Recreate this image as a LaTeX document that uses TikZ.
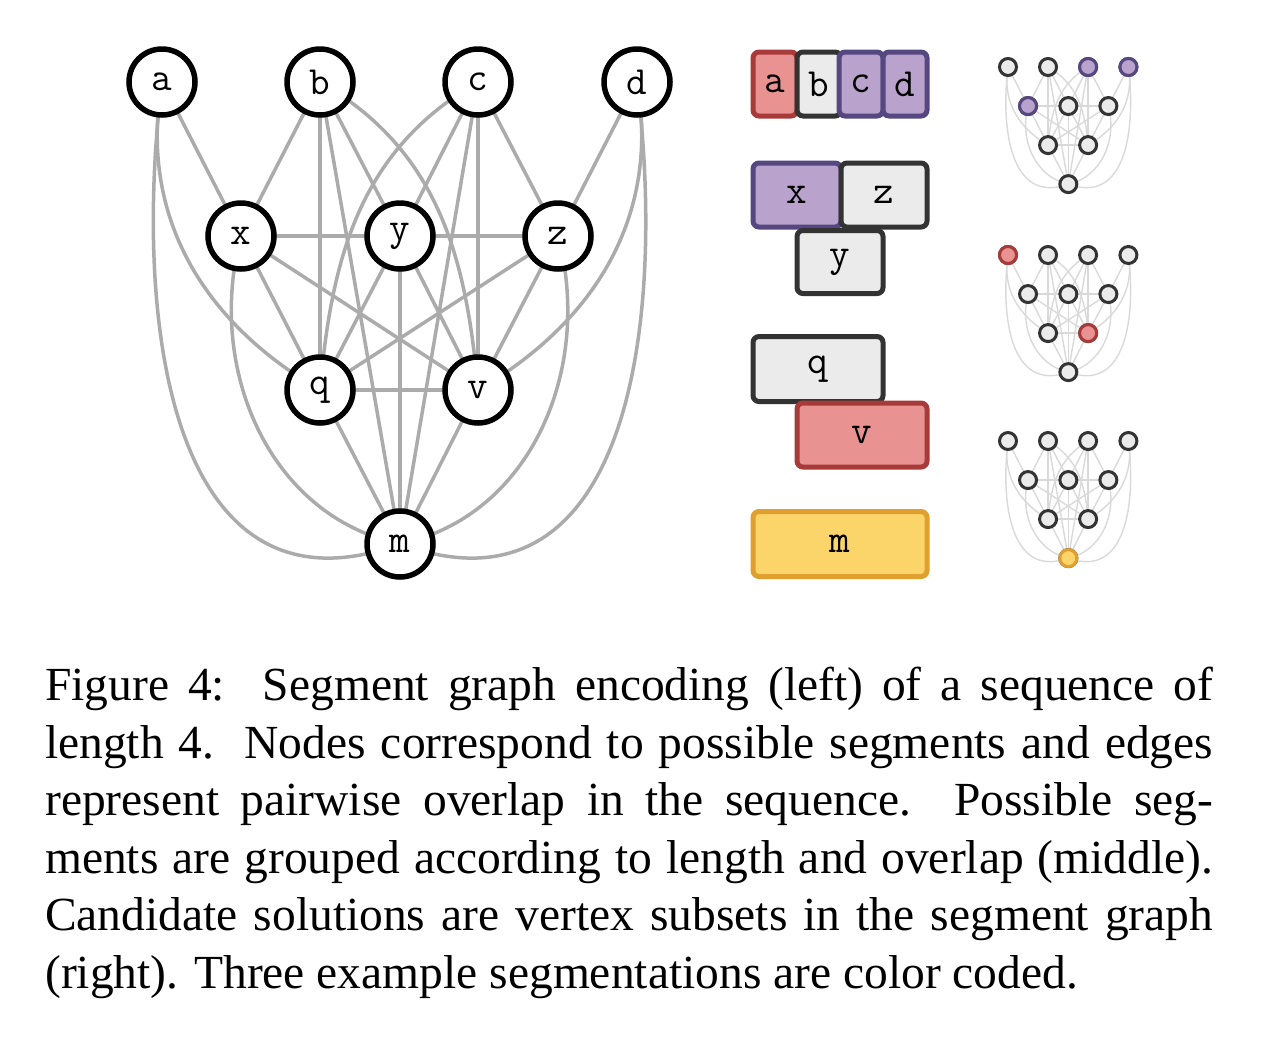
\documentclass[tikz,border=0pt]{standalone}
\usepackage{fontspec}
\setmainfont{Liberation Serif}
\begin{document}
\begin{tikzpicture}[x=1pt,y=-1pt,
  bn/.style={circle,draw=black,line width=5.5pt,fill=white,minimum size=66pt,inner sep=0pt,font=\ttfamily\fontsize{40}{40}\selectfont},
  sn/.style={circle,draw=black!80,line width=3pt,fill=black!8,minimum size=17pt,inner sep=0pt},
  be/.style={draw=black!33,line width=3.5pt},
  se/.style={draw=black!15,line width=1.4pt},
  seg/.style={draw=black!80,line width=5pt,rounded corners=6pt,fill=black!8},
  segt/.style={font=\ttfamily\fontsize{40}{40}\selectfont},
]
\definecolor{rB}{HTML}{A83A3A}\definecolor{rF}{HTML}{E89292}
\definecolor{pB}{HTML}{55477F}\definecolor{pF}{HTML}{B9A2CC}
\definecolor{yB}{HTML}{E0A030}\definecolor{yF}{HTML}{FCD56A}
\tikzset{red/.style={draw=rB,fill=rF},pur/.style={draw=pB,fill=pF},yel/.style={draw=yB,fill=yF}}
\useasboundingbox (0,0) rectangle (1268,1042);
\newcommand\mkgraph[3]{%
 \begin{scope}[shift={(#2)},scale=#3]
 \foreach \n/\px/\py in {a/0/0,b/158/0,c/316/0,d/475/0,x/79/154,y/238/154,z/396/154,q/158/308,v/316/308,m/238/462}
   {\coordinate (#1\n) at (\px,\py);}
 \end{scope}}
\newcommand\graphedges[2]{%
 \foreach \s/\t in {a/x,b/x,b/y,b/q,b/m,c/y,c/z,c/v,c/m,d/z,x/y,y/z,x/v,x/q,y/q,y/v,y/m,z/q,z/v,q/v,q/m,v/m}
   {\draw[#2] (#1\s) -- (#1\t);}
 \draw[#2] (#1a) to[out=-97,in=200,looseness=1.2] (#1m);
 \draw[#2] (#1a) to[out=-100,in=150] (#1q);
 \draw[#2] (#1x) to[out=-105,in=168] (#1m);
 \draw[#2] (#1b) to[out=-30,in=95] (#1v);
 \draw[#2] (#1c) to[out=-150,in=85] (#1q);
 \draw[#2] (#1d) to[out=-83,in=-20,looseness=1.2] (#1m);
 \draw[#2] (#1d) to[out=-80,in=30] (#1v);
 \draw[#2] (#1z) to[out=-75,in=12] (#1m);}
% big graph
\mkgraph{B}{162,82}{1}
\graphedges{B}{be}
\foreach \n in {a,b,c,d,x,y,z,q,v,m}{\node[bn] (n\n) at (B\n) {\n};}
% small graphs
\mkgraph{S}{1008,67}{0.2535}
\mkgraph{T}{1008,255}{0.2535}
\mkgraph{U}{1008,441}{0.2535}
\foreach \g in {S,T,U}{\graphedges{\g}{se}}
\foreach \g in {S,T,U}{\foreach \n in {a,b,c,d,x,y,z,q,v,m}{\node[sn] (\g n\n) at (\g\n) {};}}
\foreach \n in {c,d,x}{\node[sn,pur] (Sh\n) at (S\n) {};}
\foreach \n in {a,v}{\node[sn,red] (Th\n) at (T\n) {};}
\node[sn,yel] (Uhm) at (Um) {};
% segments
\node[seg,red,minimum width=44pt,minimum height=64pt] (ga) at (775,84) {};
\node[seg,minimum width=44pt,minimum height=64pt] (gb) at (819,84) {};
\node[seg,pur,minimum width=44pt,minimum height=64pt] (gc) at (861,84) {};
\node[seg,pur,minimum width=44pt,minimum height=64pt] (gd) at (905,84) {};
\foreach \n in {a,b,c,d}{\node[segt] at (g\n) {\n};}
\node[seg,pur,minimum width=88pt,minimum height=64pt] (gx) at (797,195) {};
\node[seg,minimum width=86pt,minimum height=64pt] (gz) at (884,195) {};
\node[seg,minimum width=86pt,minimum height=63pt] (gy) at (840,262) {};
\node[seg,minimum width=130pt,minimum height=65pt] (gq) at (818,369) {};
\node[seg,red,minimum width=130pt,minimum height=64pt] (gv) at (862,435) {};
\node[seg,yel,minimum width=174pt,minimum height=65pt] (gm) at (840,544) {};
\foreach \n in {x,z,y,q,v,m}{\node[segt] at (g\n) {\n};}
% caption
\node[anchor=north west,inner sep=0pt,text width=1168pt,align=justify,font=\fontsize{47.5}{57.5}\selectfont] (cap) at (45,667)
 {Figure 4:\ \ Segment graph encoding (left) of a sequence of\linebreak length 4.\ \ Nodes correspond to possible segments and edges\linebreak represent pairwise overlap in the sequence.\ \ Possible seg-\linebreak ments are grouped according to length and overlap (middle).\linebreak Candidate solutions are vertex subsets in the segment graph\linebreak (right). Three example segmentations are color coded.};
\end{tikzpicture}
\end{document}
